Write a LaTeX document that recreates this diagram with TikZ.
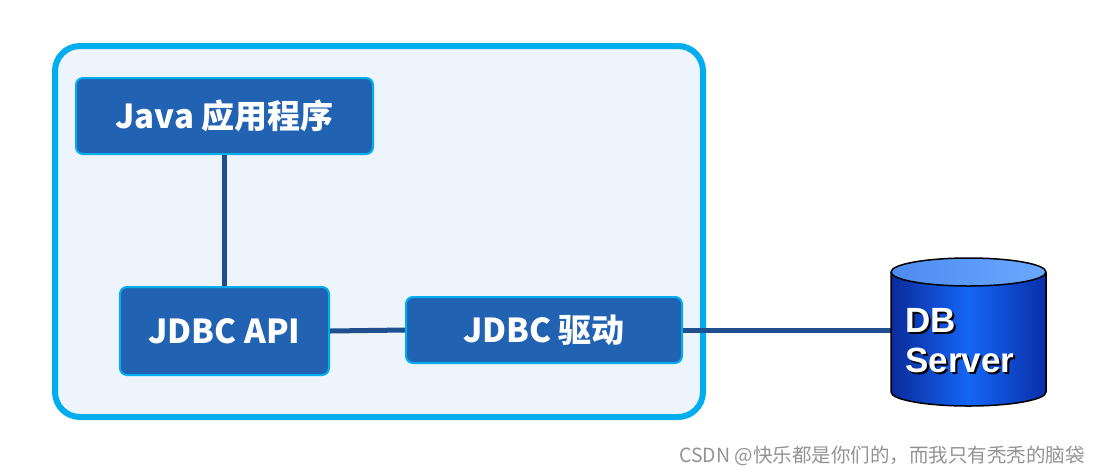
\documentclass[tikz,border=0pt]{standalone}
\usepackage{fontspec}
\setmainfont{Liberation Sans}
\newfontfamily\cjk{Noto Sans CJK SC}
\definecolor{frame}{HTML}{00AEEF}
\definecolor{panel}{HTML}{EDF4FB}
\definecolor{boxblue}{HTML}{2162B2}
\definecolor{linkblue}{HTML}{1F4F8F}
\definecolor{cylL}{HTML}{0A2A9A}
\definecolor{cylM}{HTML}{1466F5}
\definecolor{cylR}{HTML}{0A2FA8}
\definecolor{topL}{HTML}{4D8BF0}
\definecolor{topR}{HTML}{6AA8FF}
\tikzset{
  box/.style={draw=frame,line width=2pt,fill=boxblue,rounded corners=7pt,text=white,font=\cjk\bfseries\fontsize{33}{38}\selectfont,inner sep=0pt},
  link/.style={draw=linkblue,line width=5pt},
  dbtext/.style={anchor=north west,align=left,font=\bfseries\fontsize{35}{40}\selectfont,inner sep=0pt}
}
\begin{document}
\begin{tikzpicture}[x=1pt,y=-1pt]
\useasboundingbox (0,0) rectangle (1099,475);
\draw[frame,line width=6pt,fill=panel,rounded corners=25pt] (55,46) rectangle (703,417);
\node[box,minimum width=297pt,minimum height=76pt] (java) at (224.5,116) {Java 应用程序};
\node[box,minimum width=209pt,minimum height=88pt] (api) at (224.5,331) {JDBC API};
\node[box,minimum width=276pt,minimum height=66pt] (drv) at (544,330) {JDBC 驱动};
\coordinate (dbl) at (893,330);
\draw[link] (java.south) -- (api.north);
\draw[link] (api.east) -- (drv.west);
\draw[link] (drv.east) -- (dbl);
% cylinder
\shade[left color=cylL, right color=cylR, middle color=cylM]
  (891,272) -- (891,392) arc[start angle=180,end angle=0,x radius=77.5,y radius=14] -- (1046,272) -- cycle;
\draw[line width=1.5pt] (891,272) -- (891,392) arc[start angle=180,end angle=0,x radius=77.5,y radius=14] -- (1046,272);
\shade[left color=topL,right color=topR,draw=black,line width=1.5pt]
  (968.5,272) ellipse[x radius=77.5,y radius=14];
\node[dbtext,text=black] (dbs) at (907,310) {DB\\Server};
\node[dbtext,text=white] (db) at (905,308) {DB\\Server};
\node[anchor=east,text=gray!85,font=\cjk\fontsize{19.5}{22}\selectfont,inner sep=0pt] (wm) at (1085,456) {CSDN @快乐都是你们的，而我只有秃秃的脑袋};
\end{tikzpicture}
\end{document}
